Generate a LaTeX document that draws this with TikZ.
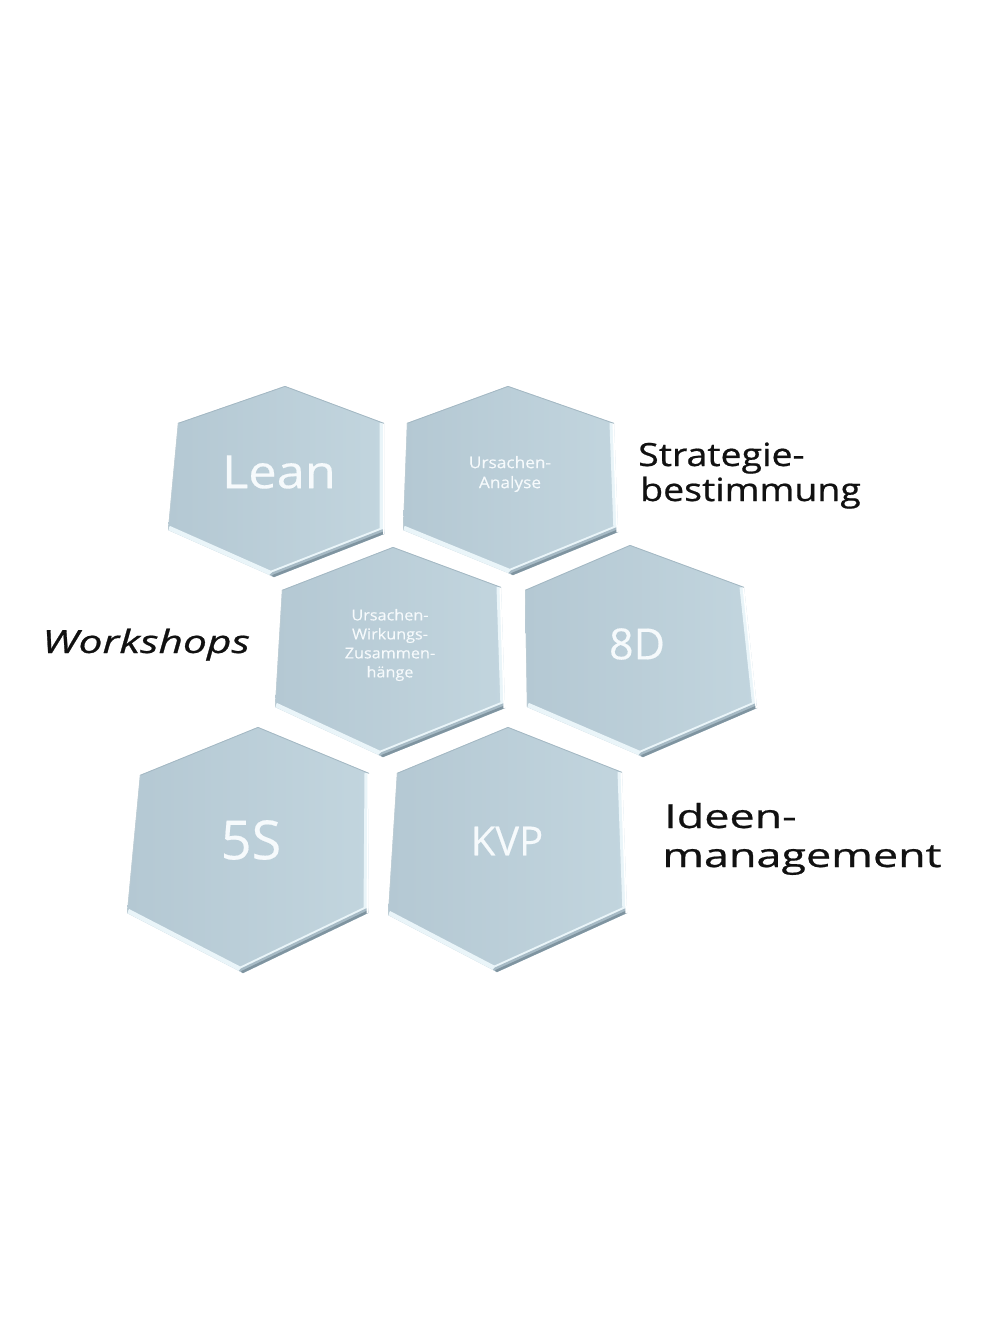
\documentclass[tikz,border=0pt]{standalone}
\usepackage{fontspec}
\setmainfont{Open Sans}
\newfontfamily\lblfont{Open Sans}[FakeBold=0.6]
\newfontfamily\lblitfont{Open Sans Italic}[FakeBold=0.6]
\newfontfamily\hexfont{Open Sans}[FakeBold=0.3]
\definecolor{hexL}{HTML}{B4C8D3}
\definecolor{hexR}{HTML}{C2D5DE}
\definecolor{hexlight}{HTML}{EAF5F9}
\definecolor{hexmid}{HTML}{A6BAC5}
\definecolor{hexdark}{HTML}{7F94A0}
\definecolor{hexedge}{HTML}{A3B7C2}
\definecolor{hextext}{HTML}{F6FAFC}
\definecolor{lbltext}{HTML}{111111}
\newcommand\hextile[1]{%
  \begin{scope}
    \clip (#1-t)--(#1-tr)--(#1-br)--(#1-b)--(#1-bl)--(#1-tl)--cycle;
    \shade[left color=hexL, right color=hexR] (#1-t)--(#1-tr)--(#1-br)--(#1-b)--(#1-bl)--(#1-tl)--cycle;
    \draw[line width=9pt, hexlight, line join=round] (#1-bl)--(#1-b)--(#1-br)--(#1-tr);
    \draw[line width=14pt, hexlight, line cap=round] (#1-b)--(#1-br);
    \draw[line width=10pt, hexmid, line cap=round] (#1-b)--(#1-br);
    \draw[line width=5pt, hexdark, line cap=round] (#1-b)--(#1-br);
    \draw[line width=3pt, white, line cap=round] (#1-tr)--(#1-br);
    \draw[line width=1.5pt, hexedge] (#1-tl)--(#1-t)--(#1-tr);
    \draw[line width=1.2pt, hexedge!70!white] (#1-tl)--(#1-bl);
  \end{scope}}
\tikzset{
  hextxt/.style={text=hextext, inner sep=0pt, align=center},
  lbl/.style={text=lbltext, inner sep=0pt, anchor=base west, font=\lblfont\fontsize{32}{32}\selectfont, xscale=1.17}
}
\begin{document}
\begin{tikzpicture}[x=1pt,y=-1pt]
\useasboundingbox[fill=white] (0,0) rectangle (980,1320);
% Lean
\coordinate (lean-t) at (285,386); \coordinate (lean-tr) at (384,423);
\coordinate (lean-br) at (384,534); \coordinate (lean-b) at (274,577);
\coordinate (lean-bl) at (168,530); \coordinate (lean-tl) at (178,423);
% Ursachen-Analyse
\coordinate (ua-t) at (508,386); \coordinate (ua-tr) at (614,423);
\coordinate (ua-br) at (618,532); \coordinate (ua-b) at (513,575);
\coordinate (ua-bl) at (403,530); \coordinate (ua-tl) at (407,423);
% Ursachen-Wirkungs-Zusammenhaenge
\coordinate (uwz-t) at (393,547); \coordinate (uwz-tr) at (501,587);
\coordinate (uwz-br) at (505,708); \coordinate (uwz-b) at (383,757);
\coordinate (uwz-bl) at (275,707); \coordinate (uwz-tl) at (282,590);
% 8D
\coordinate (ed-t) at (630,545); \coordinate (ed-tr) at (744,587);
\coordinate (ed-br) at (757,708); \coordinate (ed-b) at (643,757);
\coordinate (ed-bl) at (527,707); \coordinate (ed-tl) at (525,590);
% 5S
\coordinate (fs-t) at (258,727); \coordinate (fs-tr) at (369,773);
\coordinate (fs-br) at (368,913); \coordinate (fs-b) at (243,973);
\coordinate (fs-bl) at (127,913); \coordinate (fs-tl) at (140,775);
% KVP
\coordinate (kvp-t) at (508,727); \coordinate (kvp-tr) at (622,772);
\coordinate (kvp-br) at (627,913); \coordinate (kvp-b) at (497,972);
\coordinate (kvp-bl) at (388,915); \coordinate (kvp-tl) at (397,773);

\hextile{lean}\hextile{ua}\hextile{uwz}\hextile{ed}\hextile{fs}\hextile{kvp}

\node[hextxt, font=\hexfont\fontsize{46}{46}\selectfont, xscale=1.1] (leantxt) at (279,472) {Lean};
\node[hextxt, font=\hexfont\fontsize{16}{20}\selectfont, xscale=1.08] (uatxt) at (510,474) {Ursachen-\\Analyse};
\node[hextxt, font=\hexfont\fontsize{15}{19}\selectfont, xscale=1.08] (uwztxt) at (390,645) {Ursachen-\\Wirkungs-\\Zusammen-\\hänge};
\node[hextxt, font=\hexfont\fontsize{43}{43}\selectfont] (edtxt) at (637,644) {8D};
\node[hextxt, font=\hexfont\fontsize{54}{54}\selectfont] (fstxt) at (251,840) {5S};
\node[hextxt, font=\hexfont\fontsize{40}{40}\selectfont] (kvptxt) at (507,841) {KVP};

\node[lbl] (strat1) at (638,466) {Strategie-};
\node[lbl] (strat2) at (640,501) {bestimmung};
\node[lbl, font=\lblitfont\fontsize{32}{32}\selectfont, xscale=1.33/1.17] (work) at (42,653) {Workshops};
\node[lbl, font=\lblfont\fontsize{33}{33}\selectfont, xscale=1.36/1.17] (idee1) at (664,828) {Ideen-};
\node[lbl, font=\lblfont\fontsize{33}{33}\selectfont, xscale=1.36/1.17] (idee2) at (662,867) {management};
\end{tikzpicture}
\end{document}
